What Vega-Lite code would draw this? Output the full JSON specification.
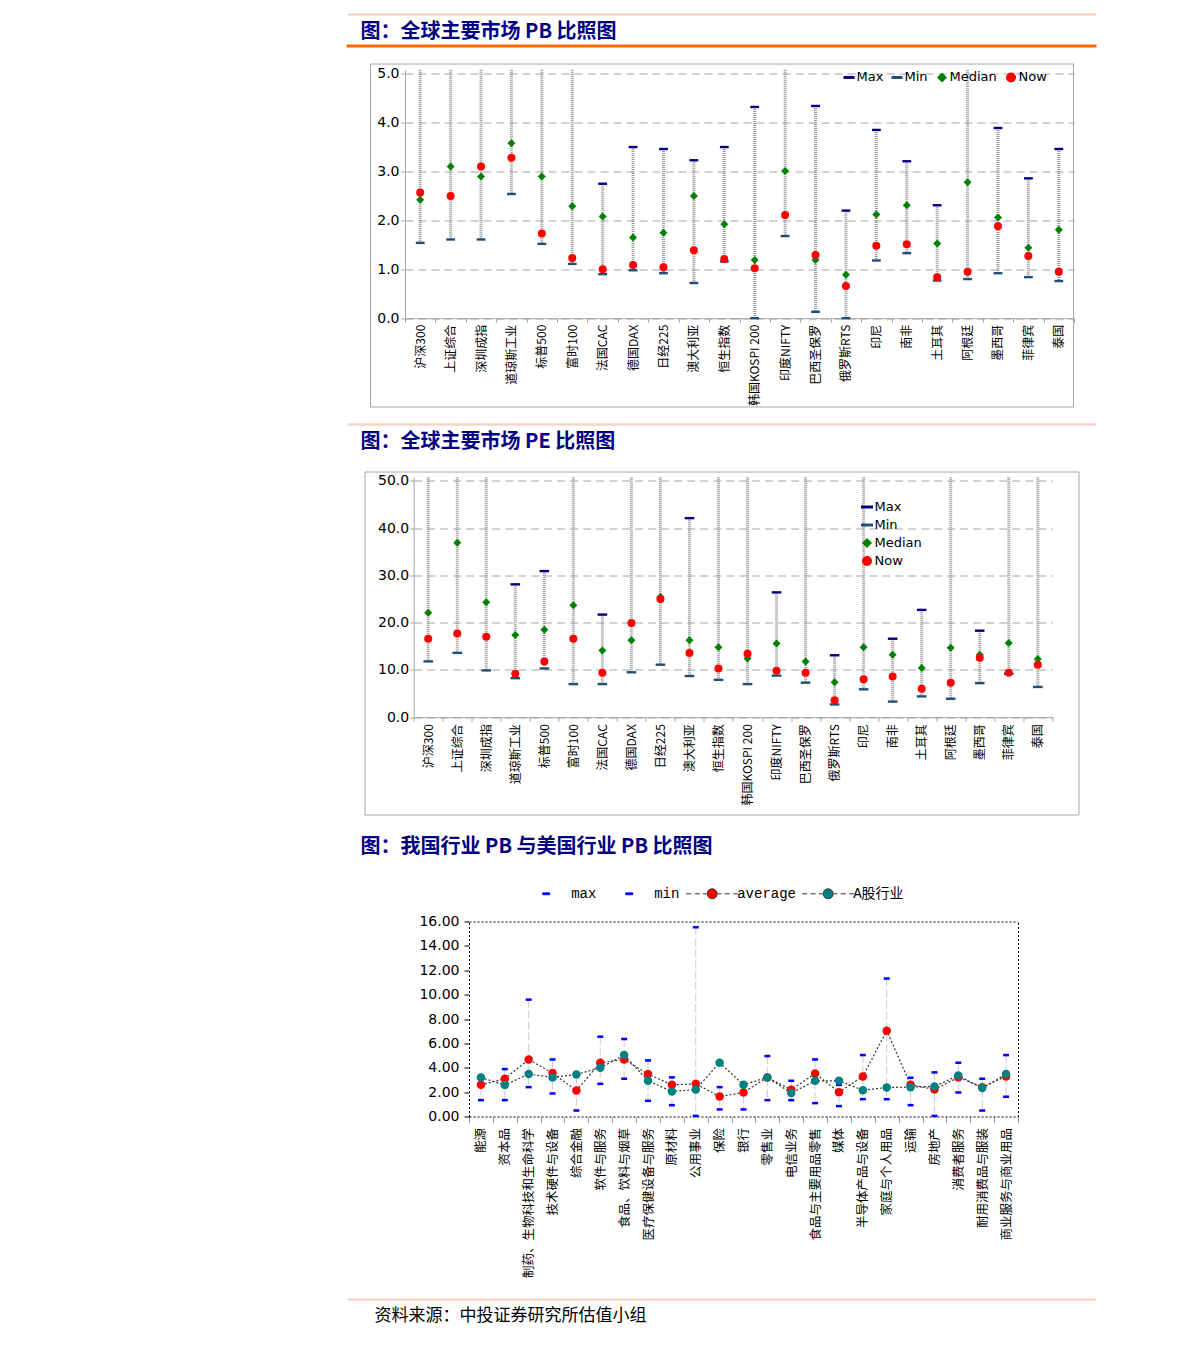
{
  "$schema": "https://vega.github.io/schema/vega-lite/v6.json",
  "padding": {"left": 346.5, "top": 12.5, "right": 5, "bottom": 5},
  "background": "white",
  "spacing": 0,
  "bounds": "flush",
  "center": true,
  "resolve": {
    "scale": {"x": "independent", "y": "independent", "color": "independent", "shape": "independent", "stroke": "independent"},
    "legend": {"color": "independent", "shape": "independent", "stroke": "independent"}
  },
  "datasets": {
    "pb": [
      {"m": "沪深300", "Max": 6.5, "Min": 1.54, "Median": 2.42, "Now": 2.57},
      {"m": "上证综合", "Max": 6.5, "Min": 1.61, "Median": 3.10, "Now": 2.50},
      {"m": "深圳成指", "Max": 6.5, "Min": 1.61, "Median": 2.90, "Now": 3.10},
      {"m": "道琼斯工业", "Max": 6.5, "Min": 2.54, "Median": 3.58, "Now": 3.28},
      {"m": "标普500", "Max": 6.5, "Min": 1.52, "Median": 2.90, "Now": 1.73},
      {"m": "富时100", "Max": 6.5, "Min": 1.11, "Median": 2.29, "Now": 1.23},
      {"m": "法国CAC", "Max": 2.75, "Min": 0.90, "Median": 2.08, "Now": 1.00},
      {"m": "德国DAX", "Max": 3.50, "Min": 0.98, "Median": 1.65, "Now": 1.09},
      {"m": "日经225", "Max": 3.46, "Min": 0.92, "Median": 1.75, "Now": 1.04},
      {"m": "澳大利亚", "Max": 3.23, "Min": 0.72, "Median": 2.50, "Now": 1.39},
      {"m": "恒生指数", "Max": 3.50, "Min": 1.16, "Median": 1.92, "Now": 1.21},
      {"m": "韩国KOSPI 200", "Max": 4.32, "Min": 0.0, "Median": 1.19, "Now": 1.02},
      {"m": "印度NIFTY", "Max": 6.5, "Min": 1.68, "Median": 3.01, "Now": 2.11},
      {"m": "巴西圣保罗", "Max": 4.34, "Min": 0.13, "Median": 1.19, "Now": 1.29},
      {"m": "俄罗斯RTS", "Max": 2.20, "Min": 0.0, "Median": 0.89, "Now": 0.66},
      {"m": "印尼", "Max": 3.85, "Min": 1.18, "Median": 2.12, "Now": 1.48},
      {"m": "南非", "Max": 3.21, "Min": 1.33, "Median": 2.31, "Now": 1.51},
      {"m": "土耳其", "Max": 2.31, "Min": 0.77, "Median": 1.53, "Now": 0.84},
      {"m": "阿根廷", "Max": 6.5, "Min": 0.80, "Median": 2.78, "Now": 0.95},
      {"m": "墨西哥", "Max": 3.89, "Min": 0.92, "Median": 2.06, "Now": 1.88},
      {"m": "菲律宾", "Max": 2.86, "Min": 0.84, "Median": 1.44, "Now": 1.27},
      {"m": "泰国", "Max": 3.46, "Min": 0.76, "Median": 1.81, "Now": 0.95}
    ],
    "pe": [
      {"m": "沪深300", "Max": 60, "Min": 11.8, "Median": 22.1, "Now": 16.6},
      {"m": "上证综合", "Max": 60, "Min": 13.6, "Median": 36.9, "Now": 17.7},
      {"m": "深圳成指", "Max": 60, "Min": 9.9, "Median": 24.3, "Now": 17.0},
      {"m": "道琼斯工业", "Max": 28.1, "Min": 8.25, "Median": 17.4, "Now": 9.2},
      {"m": "标普500", "Max": 30.9, "Min": 10.3, "Median": 18.5, "Now": 11.8},
      {"m": "富时100", "Max": 60, "Min": 7.0, "Median": 23.7, "Now": 16.6},
      {"m": "法国CAC", "Max": 21.7, "Min": 7.0, "Median": 14.1, "Now": 9.4},
      {"m": "德国DAX", "Max": 60, "Min": 9.5, "Median": 16.3, "Now": 19.9},
      {"m": "日经225", "Max": 60, "Min": 11.1, "Median": 25.4, "Now": 25.0},
      {"m": "澳大利亚", "Max": 42.1, "Min": 8.7, "Median": 16.3, "Now": 13.6},
      {"m": "恒生指数", "Max": 60, "Min": 7.9, "Median": 14.8, "Now": 10.3},
      {"m": "韩国KOSPI 200", "Max": 60, "Min": 7.0, "Median": 12.4, "Now": 13.4},
      {"m": "印度NIFTY", "Max": 26.4, "Min": 8.8, "Median": 15.6, "Now": 9.8},
      {"m": "巴西圣保罗", "Max": 60, "Min": 7.3, "Median": 11.8, "Now": 9.4},
      {"m": "俄罗斯RTS", "Max": 13.1, "Min": 2.7, "Median": 7.4, "Now": 3.6},
      {"m": "印尼", "Max": 60, "Min": 5.9, "Median": 14.8, "Now": 8.0},
      {"m": "南非", "Max": 16.6, "Min": 3.3, "Median": 13.2, "Now": 8.6},
      {"m": "土耳其", "Max": 22.7, "Min": 4.4, "Median": 10.4, "Now": 6.0},
      {"m": "阿根廷", "Max": 60, "Min": 3.9, "Median": 14.7, "Now": 7.3},
      {"m": "墨西哥", "Max": 18.3, "Min": 7.2, "Median": 13.2, "Now": 12.6},
      {"m": "菲律宾", "Max": 60, "Min": 9.2, "Median": 15.7, "Now": 9.4},
      {"m": "泰国", "Max": 60, "Min": 6.4, "Median": 12.3, "Now": 11.1}
    ],
    "ind": [
      {"c": "能源", "max": 3.35, "min": 1.34, "average": 2.60, "A股行业": 3.20},
      {"c": "资本品", "max": 3.89, "min": 1.34, "average": 3.10, "A股行业": 2.58},
      {"c": "制药、生物科技和生命科学", "max": 9.59, "min": 2.41, "average": 4.68, "A股行业": 3.48},
      {"c": "技术硬件与设备", "max": 4.68, "min": 1.89, "average": 3.56, "A股行业": 3.21},
      {"c": "综合金融", "max": 3.37, "min": 0.49, "average": 2.14, "A股行业": 3.45},
      {"c": "软件与服务", "max": 6.55, "min": 2.68, "average": 4.41, "A股行业": 4.00},
      {"c": "食品、饮料与烟草", "max": 6.36, "min": 3.10, "average": 4.68, "A股行业": 5.04},
      {"c": "医疗保健设备与服务", "max": 4.60, "min": 1.29, "average": 3.48, "A股行业": 2.93},
      {"c": "原材料", "max": 3.21, "min": 0.93, "average": 2.60, "A股行业": 2.05},
      {"c": "公用事业", "max": 15.53, "min": 0.05, "average": 2.68, "A股行业": 2.22},
      {"c": "保险", "max": 2.41, "min": 0.58, "average": 1.64, "A股行业": 4.41},
      {"c": "银行", "max": 2.65, "min": 0.58, "average": 1.97, "A股行业": 2.60},
      {"c": "零售业", "max": 4.96, "min": 1.34, "average": 3.21, "A股行业": 3.21},
      {"c": "电信业务", "max": 2.93, "min": 1.34, "average": 2.19, "A股行业": 1.92},
      {"c": "食品与主要用品零售", "max": 4.68, "min": 1.10, "average": 3.53, "A股行业": 2.93},
      {"c": "媒体", "max": 2.60, "min": 0.85, "average": 2.00, "A股行业": 2.93},
      {"c": "半导体产品与设备", "max": 5.04, "min": 1.42, "average": 3.29, "A股行业": 2.16},
      {"c": "家庭与个人用品", "max": 11.32, "min": 1.42, "average": 7.04, "A股行业": 2.38},
      {"c": "运输", "max": 3.18, "min": 0.93, "average": 2.60, "A股行业": 2.41},
      {"c": "房地产", "max": 3.62, "min": 0.05, "average": 2.22, "A股行业": 2.47},
      {"c": "消费者服务", "max": 4.41, "min": 1.97, "average": 3.21, "A股行业": 3.37},
      {"c": "耐用消费品与服装", "max": 3.10, "min": 0.49, "average": 2.41, "A股行业": 2.33},
      {"c": "商业服务与商业用品", "max": 5.04, "min": 1.62, "average": 3.29, "A股行业": 3.48}
    ]
  },
  "vconcat": [
    {"width": 748, "height": 1, "data": {"values": []}, "mark": "point", "view": {"stroke": "#F7C3AE", "strokeWidth": 1}},
    {"width": 1, "height": 31, "data": {"values": []}, "mark": "point"},
    {"width": 748, "height": 1, "data": {"values": []}, "mark": "point", "view": {"stroke": "#FF6600", "strokeWidth": 2},
     "title": {"text": "图：全球主要市场 PB 比照图", "anchor": "start", "frame": "group", "offset": 3.5, "dx": 13, "font": "Noto Sans CJK SC", "fontSize": 20, "fontWeight": "bold", "color": "#000080"}},
    {"width": 1, "height": 17, "data": {"values": []}, "mark": "point"},
    {
      "width": 703, "height": 343,
      "view": {"stroke": "#a6a6a6", "strokeWidth": 1},
      "data": {"name": "pb"},
      "encoding": {"x": {"field": "m", "type": "nominal", "sort": null,
        "scale": {"type": "band", "range": [35, 704], "paddingInner": 0, "paddingOuter": 0},
        "axis": {"offset": -88.3, "title": null, "labelAngle": -90, "labelFont": "Noto Sans CJK SC", "labelFontSize": 12, "labelColor": "#000", "tickBand": "extent", "tickSize": 4, "tickColor": "#a6a6a6", "domainColor": "#a6a6a6", "labelPadding": 2, "grid": false}}},
      "layer": [
        {"mark": {"type": "rule", "color": "#999999", "strokeWidth": 3, "strokeDash": [1, 1]},
         "encoding": {
           "y": {"field": "Max", "type": "quantitative", "scale": {"domain": [0, 5.08], "range": [254.7, 6.3], "clamp": true, "nice": false, "zero": false},
             "axis": {"values": [0, 1, 2, 3, 4, 5], "format": ".1f", "offset": -35, "title": null, "grid": true, "gridColor": "#a6a6a6", "gridDash": [8, 5], "domainColor": "#a6a6a6", "tickColor": "#a6a6a6", "tickSize": 4, "labelFont": "DejaVu Sans", "labelFontSize": 14, "labelColor": "#000", "labelPadding": 2}},
           "y2": {"field": "Min"}}},
        {"transform": [{"fold": ["Max", "Min", "Median", "Now"], "as": ["s1", "v1"]}, {"filter": "datum.v1 <= 5.08"}],
         "mark": {"type": "point", "filled": true, "opacity": 1, "size": 64},
         "encoding": {
           "y": {"field": "v1", "type": "quantitative"},
           "color": {"field": "s1", "type": "nominal",
             "scale": {"domain": ["Max", "Min", "Median", "Now"], "range": ["#000080", "#1F4E79", "#008000", "#FF0000"]},
             "legend": {"orient": "none", "legendX": 472.5, "legendY": 7.2, "direction": "horizontal", "columns": 4, "title": null, "labelFont": "DejaVu Sans", "labelFontSize": 13, "labelColor": "#000", "labelOffset": 1, "columnPadding": 7, "symbolStrokeWidth": 0, "padding": 0}},
           "shape": {"field": "s1", "type": "nominal",
             "scale": {"domain": ["Max", "Min", "Median", "Now"], "range": ["M-1.1,-0.3H1.1V0.3H-1.1Z", "M-1.1,-0.3H1.1V0.3H-1.1Z", "diamond", "circle"]}}
         }}
      ]
    },
    {"width": 1, "height": 17, "data": {"values": []}, "mark": "point"},
    {"width": 748, "height": 1, "data": {"values": []}, "mark": "point", "view": {"stroke": "#F7C3AE", "strokeWidth": 1}},
    {"width": 1, "height": 47, "data": {"values": []}, "mark": "point"},
    {
      "width": 714, "height": 343,
      "view": {"stroke": "#a6a6a6", "strokeWidth": 1},
      "title": {"text": "图：全球主要市场 PE 比照图", "anchor": "start", "frame": "group", "offset": 19.2, "dx": -4, "font": "Noto Sans CJK SC", "fontSize": 20, "fontWeight": "bold", "color": "#000080"},
      "data": {"name": "pe"},
      "encoding": {"x": {"field": "m", "type": "nominal", "sort": null,
        "scale": {"type": "band", "range": [49.2, 687.8], "paddingInner": 0, "paddingOuter": 0},
        "axis": {"offset": -97.3, "title": null, "labelAngle": -90, "labelFont": "Noto Sans CJK SC", "labelFontSize": 12, "labelColor": "#000", "tickBand": "extent", "tickSize": 4, "tickColor": "#a6a6a6", "domainColor": "#a6a6a6", "labelPadding": 2.5, "grid": false}}},
      "layer": [
        {"mark": {"type": "rule", "color": "#999999", "strokeWidth": 3, "strokeDash": [1, 1]},
         "encoding": {
           "y": {"field": "Max", "type": "quantitative", "scale": {"domain": [0, 50.76], "range": [245.7, 5.7], "clamp": true, "nice": false, "zero": false},
             "axis": {"values": [0, 10, 20, 30, 40, 50], "format": ".1f", "offset": -49.2, "title": null, "grid": true, "gridColor": "#a6a6a6", "gridDash": [8, 5], "domainColor": "#a6a6a6", "tickColor": "#a6a6a6", "tickSize": 4, "labelFont": "DejaVu Sans", "labelFontSize": 14, "labelColor": "#000", "labelPadding": 1}},
           "y2": {"field": "Min"}}},
        {"transform": [{"fold": ["Max", "Min", "Median", "Now"], "as": ["s2", "v2"]}, {"filter": "datum.v2 <= 50.76"}],
         "mark": {"type": "point", "filled": true, "opacity": 1, "size": 64},
         "encoding": {
           "y": {"field": "v2", "type": "quantitative"},
           "color": {"field": "s2", "type": "nominal",
             "scale": {"domain": ["Max", "Min", "Median", "Now"], "range": ["#000080", "#1F4E79", "#008000", "#FF0000"]},
             "legend": {"orient": "none", "legendX": 496, "legendY": 29, "direction": "vertical", "title": null, "labelFont": "DejaVu Sans", "labelFontSize": 13, "labelColor": "#000", "labelOffset": 1, "rowPadding": 4, "symbolStrokeWidth": 0, "padding": 0}},
           "shape": {"field": "s2", "type": "nominal",
             "scale": {"domain": ["Max", "Min", "Median", "Now"], "range": ["M-1.2,-0.3H1.2V0.3H-1.2Z", "M-1.2,-0.3H1.2V0.3H-1.2Z", "diamond", "circle"]}}
         }}
      ]
    },
    {"width": 1, "height": 107, "data": {"values": []}, "mark": "point"},
    {
      "width": 593, "height": 195,
      "view": {"stroke": null},
      "title": {"text": "图：我国行业 PB 与美国行业 PB 比照图", "anchor": "start", "frame": "group", "offset": 29.7, "dx": -64.5, "font": "Noto Sans CJK SC", "fontSize": 20, "fontWeight": "bold", "color": "#000080"},
      "data": {"name": "ind"},
      "layer": [
        {"mark": {"type": "rule", "color": "#cccccc", "strokeWidth": 1, "strokeDash": [8, 3]},
         "encoding": {
           "x": {"field": "c", "type": "nominal", "sort": null,
             "scale": {"type": "band", "range": [44, 593], "paddingInner": 0, "paddingOuter": 0},
             "axis": {"orient": "bottom", "title": null, "labelAngle": -90, "labelFont": "Noto Sans CJK SC", "labelFontSize": 12.5, "labelColor": "#000", "tickBand": "extent", "tickSize": 6, "tickColor": "#999", "domainColor": "#000", "domainDash": [2, 2], "labelPadding": 5, "grid": false}},
           "y": {"field": "max", "type": "quantitative", "scale": {"domain": [0, 16], "nice": false, "zero": true},
             "axis": {"orient": "left", "offset": -44, "values": [0, 2, 4, 6, 8, 10, 12, 14, 16], "format": ".2f", "title": null, "grid": false, "domainColor": "#000", "domainDash": [2, 2], "tickColor": "#000", "tickSize": 5, "labelFont": "DejaVu Sans", "labelFontSize": 14, "labelColor": "#000", "labelPadding": 5}},
           "y2": {"field": "min"}}},
        {"mark": {"type": "line", "color": "#333", "strokeWidth": 1.2, "strokeDash": [2, 2]},
         "encoding": {
           "x": {"field": "c", "type": "nominal", "sort": null,
             "axis": {"orient": "top", "title": null, "labels": false, "ticks": false, "domainColor": "#000", "domainDash": [2, 2], "grid": false}},
           "y": {"field": "average", "type": "quantitative",
             "axis": {"orient": "right", "title": null, "labels": false, "ticks": false, "domainColor": "#000", "domainDash": [2, 2], "grid": false}}}},
        {"mark": {"type": "line", "color": "#333", "strokeWidth": 1.2, "strokeDash": [2, 2]},
         "encoding": {
           "x": {"field": "c", "type": "nominal", "sort": null, "axis": null},
           "y": {"field": "A股行业", "type": "quantitative", "axis": null}}},
        {"transform": [{"fold": ["max", "min"], "as": ["k3", "v3"]}],
         "mark": {"type": "point", "filled": true, "opacity": 1, "size": 72, "color": "#0000FF", "shape": "M-0.7,-0.3H0.7V0.3H-0.7Z"},
         "encoding": {
           "x": {"field": "c", "type": "nominal", "sort": null, "axis": null},
           "y": {"field": "v3", "type": "quantitative", "axis": null}}},
        {"mark": {"type": "point", "filled": true, "opacity": 1, "size": 72, "color": "#FF0000", "shape": "circle"},
         "encoding": {
           "x": {"field": "c", "type": "nominal", "sort": null, "axis": null},
           "y": {"field": "average", "type": "quantitative", "axis": null}}},
        {"mark": {"type": "point", "filled": true, "opacity": 1, "size": 72, "color": "#008080", "shape": "circle"},
         "encoding": {
           "x": {"field": "c", "type": "nominal", "sort": null, "axis": null},
           "y": {"field": "A股行业", "type": "quantitative", "axis": null}}},
        {"data": {"values": []},
         "mark": {"type": "point", "filled": true, "opacity": 1, "size": 64},
         "encoding": {
           "color": {"field": "s3", "type": "nominal",
             "scale": {"domain": ["max", "min", "average", "A股行业"], "range": ["#0000FF", "#0000FF", "#FF0000", "#008080"]},
             "legend": {"orient": "none", "legendX": 114.2, "legendY": -34.7, "direction": "horizontal", "columns": 4, "title": null, "labelFont": "Liberation Mono, Noto Sans CJK SC", "labelFontSize": 14, "labelColor": "#000", "labelOffset": 18, "columnPadding": 4, "symbolStrokeWidth": 1, "padding": 0}},
           "shape": {"field": "s3", "type": "nominal",
             "scale": {"domain": ["max", "min", "average", "A股行业"], "range": ["M-5.2,0M-0.7,-0.18H0.7V0.18H-0.7Z", "M-5.2,0M-0.7,-0.18H0.7V0.18H-0.7Z", "M-5.2,0H-4.2M-3.5,0H-2.5M-1.85,0H-1.1M1.1,0H1.85M2.5,0H3.5M4.2,0H5.2M-1,0A1,1 0 1,1 1,0A1,1 0 1,1 -1,0Z", "M-5.2,0H-4.2M-3.5,0H-2.5M-1.85,0H-1.1M1.1,0H1.85M2.5,0H3.5M4.2,0H5.2M-1,0A1,1 0 1,1 1,0A1,1 0 1,1 -1,0Z"]}},
           "stroke": {"field": "s3", "type": "nominal",
             "scale": {"domain": ["max", "min", "average", "A股行业"], "range": ["#0000FF", "#0000FF", "#333333", "#333333"]}}
         }}
      ]
    },
    {"width": 1, "height": 182, "data": {"values": []}, "mark": "point"},
    {"width": 748, "height": 1, "data": {"values": []}, "mark": "point", "view": {"stroke": "#F7C3AE", "strokeWidth": 1},
     "title": {"text": "资料来源：中投证券研究所估值小组", "orient": "bottom", "anchor": "start", "frame": "group", "offset": 8, "dx": 27, "font": "Noto Sans CJK SC", "fontSize": 17, "fontWeight": "normal", "color": "#000"}}
  ],
  "config": {
    "view": {"stroke": null},
    "font": "DejaVu Sans"
  }
}
